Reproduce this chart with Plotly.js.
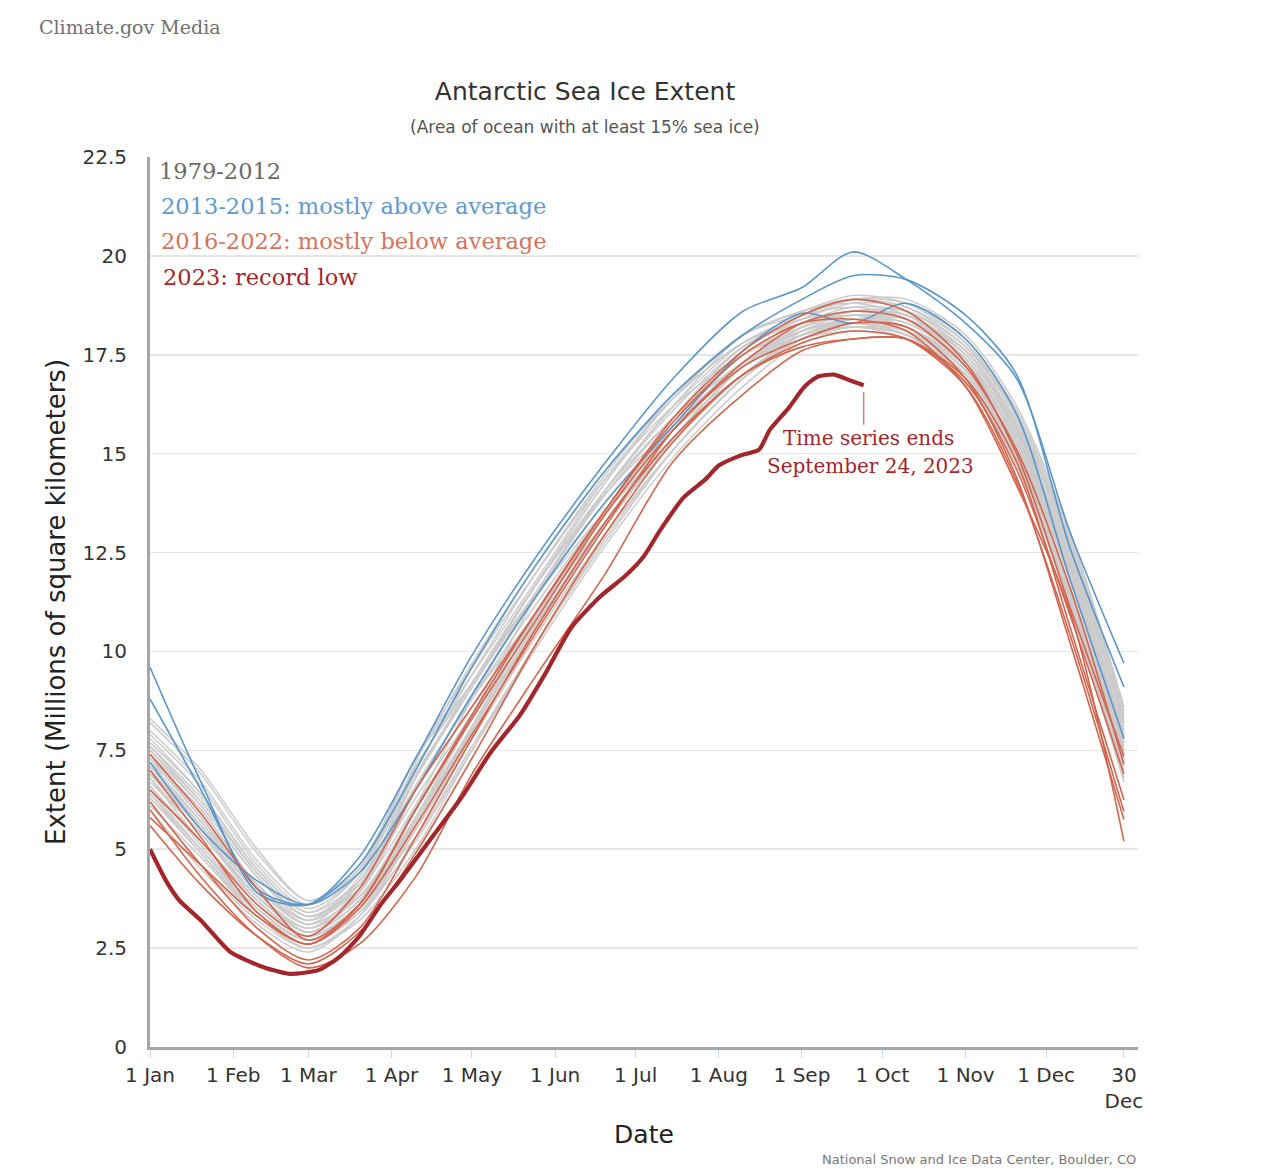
<!DOCTYPE html>
<html>
<head>
<meta charset="utf-8">
<script src="https://cdn.plot.ly/plotly-3.0.1.min.js"></script>
<style>
  html, body { margin: 0; padding: 0; background: #ffffff; }
  #chart { width: 1280px; height: 1168px; }
</style>
</head>
<body>
<div id="chart"></div>
<script>
// Sample dates shared by the 1979-2022 daily-extent curves (calendar of a non-leap year)
const dates = ['2023-01-01','2023-01-20','2023-02-10','2023-03-01','2023-03-20','2023-04-10',
  '2023-05-01','2023-05-25','2023-06-20','2023-07-15','2023-08-10','2023-09-01',
  '2023-09-20','2023-10-10','2023-11-01','2023-11-20','2023-12-10','2023-12-30'];

// 1979-2012 extents, millions of km²
const ext1979 = [8.0, 6.7, 4.7, 3.6, 4.5, 7.3, 9.4, 11.8, 14.4, 16.4, 17.8, 18.4, 18.6, 18.5, 17.5, 15.6, 12.3, 7.9];
const ext1980 = [7.6, 6.3, 4.4, 3.3, 4.0, 6.1, 8.3, 10.9, 13.3, 15.4, 17.2, 18.0, 18.3, 18.1, 17.0, 15.0, 11.6, 7.2];
const ext1981 = [6.4, 4.9, 3.4, 2.7, 3.6, 5.8, 8.4, 11.4, 14.1, 16.2, 18.0, 18.6, 18.9, 18.7, 17.7, 15.9, 12.6, 8.2];
const ext1982 = [7.3, 6.0, 4.1, 3.2, 4.3, 7.1, 9.2, 11.7, 14.1, 15.9, 17.3, 18.0, 18.2, 18.0, 17.0, 15.1, 11.8, 7.5];
const ext1983 = [6.8, 5.2, 3.7, 2.8, 3.5, 5.5, 7.8, 10.4, 13.0, 15.1, 16.9, 17.9, 18.3, 18.2, 17.2, 15.3, 11.9, 7.4];
const ext1984 = [7.9, 6.6, 4.6, 3.5, 4.4, 6.9, 9.1, 11.5, 14.0, 15.7, 17.2, 18.0, 18.4, 18.4, 17.6, 15.8, 12.5, 8.1];
const ext1985 = [6.2, 4.6, 3.2, 2.5, 3.3, 5.3, 8.0, 10.7, 13.3, 15.6, 17.3, 18.3, 18.7, 18.6, 17.6, 15.7, 12.2, 7.8];
const ext1986 = [7.1, 5.7, 4.0, 3.1, 3.9, 6.5, 8.9, 11.4, 13.6, 15.6, 17.0, 17.9, 18.1, 17.9, 16.8, 14.8, 11.3, 6.9];
const ext1987 = [7.5, 6.1, 4.3, 3.2, 4.1, 6.6, 8.8, 11.0, 13.5, 15.9, 17.7, 18.4, 18.8, 18.7, 17.8, 16.0, 12.8, 8.6];
const ext1988 = [6.6, 5.1, 3.5, 2.7, 3.4, 5.2, 7.5, 10.1, 12.7, 14.9, 16.7, 17.8, 18.1, 17.9, 16.9, 15.0, 11.5, 7.0];
const ext1989 = [7.4, 5.8, 4.0, 3.1, 4.2, 6.8, 9.1, 11.7, 14.3, 16.4, 18.0, 18.5, 18.7, 18.4, 17.3, 15.3, 11.9, 7.6];
const ext1990 = [6.9, 5.5, 3.8, 2.9, 3.7, 6.0, 8.3, 10.9, 13.5, 15.7, 17.5, 18.3, 18.6, 18.4, 17.4, 15.5, 12.1, 7.7];
const ext1991 = [7.7, 6.4, 4.5, 3.4, 4.4, 7.3, 9.6, 12.0, 14.4, 16.2, 17.5, 18.1, 18.4, 18.2, 17.1, 15.2, 11.8, 7.3];
const ext1992 = [6.5, 5.0, 3.4, 2.6, 3.5, 5.7, 8.1, 10.9, 13.6, 15.9, 17.7, 18.4, 18.9, 18.8, 17.9, 16.1, 12.9, 8.5];
const ext1993 = [7.2, 5.7, 3.9, 3.0, 3.8, 5.8, 8.1, 10.7, 13.2, 15.3, 17.0, 18.0, 18.4, 18.3, 17.3, 15.4, 12.0, 7.8];
const ext1994 = [6.1, 4.8, 3.3, 2.6, 3.4, 5.5, 8.0, 10.6, 13.2, 15.4, 17.2, 18.1, 18.4, 18.2, 17.1, 15.0, 11.4, 6.9];
const ext1995 = [8.2, 6.9, 4.9, 3.7, 4.6, 7.3, 9.2, 11.5, 13.8, 15.7, 17.2, 18.0, 18.3, 18.2, 17.3, 15.6, 12.4, 8.3];
const ext1996 = [7.0, 5.6, 3.9, 2.9, 3.7, 6.1, 8.8, 11.5, 14.1, 16.2, 17.8, 18.5, 18.9, 18.9, 18.0, 16.2, 13.0, 8.6];
const ext1997 = [6.7, 5.4, 3.7, 2.8, 3.6, 5.7, 8.0, 10.6, 13.2, 15.3, 17.0, 18.0, 18.3, 18.0, 16.9, 14.9, 11.3, 6.8];
const ext1998 = [7.8, 6.4, 4.5, 3.4, 4.2, 6.6, 8.8, 11.2, 13.6, 15.7, 17.3, 18.2, 18.5, 18.4, 17.5, 15.7, 12.4, 8.2];
const ext1999 = [6.3, 4.9, 3.3, 2.5, 3.2, 5.0, 7.5, 10.2, 12.8, 15.1, 16.9, 17.9, 18.2, 18.1, 17.1, 15.2, 11.8, 7.4];
const ext2000 = [7.3, 5.8, 4.1, 3.2, 4.0, 6.5, 8.9, 11.5, 14.1, 16.1, 17.7, 18.3, 18.6, 18.5, 17.5, 15.6, 12.2, 7.9];
const ext2001 = [6.8, 5.4, 3.8, 2.9, 3.9, 7.2, 9.7, 12.2, 14.6, 16.4, 17.8, 18.3, 18.5, 18.2, 17.2, 15.3, 11.9, 7.5];
const ext2002 = [7.6, 6.2, 4.4, 3.3, 4.1, 6.3, 8.4, 10.9, 13.3, 15.4, 17.0, 17.9, 18.2, 18.0, 17.0, 15.0, 11.6, 7.3];
const ext2003 = [6.0, 4.5, 3.1, 2.4, 3.3, 5.5, 8.1, 10.9, 13.5, 15.6, 17.3, 18.2, 18.5, 18.4, 17.4, 15.5, 12.3, 8.0];
const ext2004 = [7.0, 5.5, 3.8, 3.0, 4.0, 6.8, 9.2, 11.7, 14.0, 15.9, 17.3, 18.1, 18.3, 18.0, 16.9, 14.8, 11.2, 6.8];
const ext2005 = [7.4, 6.1, 4.3, 3.3, 4.2, 6.8, 9.1, 11.7, 14.3, 16.4, 18.0, 18.6, 19.0, 18.8, 17.8, 15.9, 12.6, 8.4];
const ext2006 = [6.6, 5.2, 3.7, 2.8, 3.6, 5.8, 8.3, 11.0, 13.6, 15.7, 17.3, 18.2, 18.6, 18.5, 17.6, 15.8, 12.6, 8.3];
const ext2007 = [7.1, 5.6, 3.9, 3.0, 3.8, 6.0, 8.3, 10.9, 13.3, 15.4, 17.0, 17.9, 18.2, 17.9, 16.8, 14.7, 11.1, 6.7];
const ext2008 = [8.3, 7.0, 5.0, 3.7, 4.5, 7.1, 9.2, 11.5, 14.0, 15.9, 17.5, 18.2, 18.5, 18.3, 17.3, 15.4, 12.1, 7.7];
const ext2009 = [6.9, 5.5, 3.8, 2.9, 3.8, 5.3, 7.6, 10.2, 12.9, 15.1, 16.9, 18.1, 18.5, 18.4, 17.4, 15.5, 12.0, 7.5];
const ext2010 = [7.2, 6.0, 4.1, 3.1, 3.9, 7.0, 9.4, 12.0, 14.5, 16.5, 18.0, 18.6, 18.8, 18.5, 17.5, 15.7, 12.3, 7.9];
const ext2011 = [6.4, 5.0, 3.5, 2.7, 3.6, 6.0, 8.4, 11.0, 13.5, 15.4, 17.0, 17.9, 18.2, 18.0, 16.9, 14.9, 11.5, 7.1];
const ext2012 = [7.5, 6.2, 4.4, 3.3, 4.1, 6.5, 8.6, 11.0, 13.3, 15.4, 17.2, 18.2, 18.6, 18.6, 17.7, 16.0, 12.7, 8.5];

// 2013-2015: mostly above average
const ext2013 = [7.2, 5.5, 4.2, 3.6, 4.4, 6.5, 8.9, 11.4, 13.8, 15.7, 17.6, 18.55, 18.3, 18.8, 17.9, 16.0, 11.8, 7.8];
const ext2014 = [8.8, 6.5, 4.0, 3.6, 4.6, 7.0, 9.6, 12.2, 14.6, 16.5, 18.0, 18.9, 19.5, 19.4, 18.5, 17.0, 12.6, 9.1];
const ext2015 = [9.6, 6.7, 3.9, 3.6, 4.8, 7.3, 9.9, 12.4, 14.8, 16.9, 18.6, 19.2, 20.1, 19.4, 18.3, 16.9, 13.0, 9.7];

// 2016-2022: mostly below average
const ext2016 = [7.4, 5.9, 4.0, 2.7, 3.6, 6.0, 8.4, 11.0, 13.6, 15.8, 17.5, 18.3, 18.4, 18.1, 16.7, 14.2, 11.0, 5.2];
const ext2017 = [5.6, 4.1, 2.8, 2.1, 2.9, 4.9, 7.3, 10.2, 13.0, 15.3, 17.0, 17.7, 17.9, 17.9, 16.8, 14.6, 10.9, 6.9];
const ext2018 = [6.2, 4.6, 3.0, 2.2, 3.0, 5.3, 7.8, 10.6, 13.3, 15.4, 17.0, 17.8, 18.1, 17.9, 16.7, 14.3, 10.4, 5.95];
const ext2019 = [5.8, 4.6, 3.3, 2.6, 3.6, 6.0, 8.3, 10.8, 13.5, 15.6, 17.2, 17.9, 18.3, 18.2, 16.9, 14.4, 10.2, 5.75];
const ext2020 = [6.5, 5.2, 3.6, 2.8, 4.0, 6.5, 8.6, 11.0, 13.6, 15.9, 17.6, 18.5, 18.9, 18.6, 17.3, 15.0, 11.1, 7.35];
const ext2021 = [7.0, 5.3, 3.4, 2.6, 3.5, 5.6, 7.9, 10.5, 13.2, 15.6, 17.3, 18.3, 18.6, 18.4, 17.2, 15.1, 11.6, 7.15];
const ext2022 = [6.0, 4.3, 2.8, 2.0, 2.6, 4.3, 6.9, 9.4, 12.0, 14.8, 16.5, 17.6, 17.9, 17.9, 16.9, 14.8, 10.6, 6.25];

// 2023: record low, series ends September 24
const dates2023 = ['2023-01-01','2023-01-07','2023-01-12','2023-01-20','2023-01-31','2023-02-11',
  '2023-02-22','2023-03-05','2023-03-13','2023-03-20','2023-03-28','2023-04-04','2023-04-15',
  '2023-04-27','2023-05-08','2023-05-19','2023-05-28','2023-06-07','2023-06-18','2023-06-27',
  '2023-07-04','2023-07-10','2023-07-19','2023-07-27','2023-08-01','2023-08-09','2023-08-16',
  '2023-08-20','2023-08-27','2023-09-02','2023-09-07','2023-09-13','2023-09-19','2023-09-24'];
const ext2023 = [5.0, 4.2, 3.7, 3.2, 2.4, 2.05, 1.85, 1.95, 2.3, 2.8, 3.6, 4.2, 5.2, 6.3, 7.45,
  8.4, 9.4, 10.6, 11.4, 11.9, 12.4, 13.05, 13.9, 14.35, 14.7, 14.95, 15.1, 15.6, 16.15, 16.7,
  16.95, 17.0, 16.85, 16.73];

// Axis ticks
const tickDates = ['2023-01-01','2023-02-01','2023-03-01','2023-04-01','2023-05-01','2023-06-01',
  '2023-07-01','2023-08-01','2023-09-01','2023-10-01','2023-11-01','2023-12-01','2023-12-30'];
const tickLabels = ['1 Jan','1 Feb','1 Mar','1 Apr','1 May','1 Jun','1 Jul','1 Aug','1 Sep',
  '1 Oct','1 Nov','1 Dec','30<br>Dec'];
const yTicks = [0, 2.5, 5, 7.5, 10, 12.5, 15, 17.5, 20, 22.5];
const yTickLabels = ['0','2.5','5','7.5','10','12.5','15','17.5','20','22.5'];

const grayYears = [ext1979, ext1980, ext1981, ext1982, ext1983, ext1984, ext1985, ext1986, ext1987,
  ext1988, ext1989, ext1990, ext1991, ext1992, ext1993, ext1994, ext1995, ext1996, ext1997,
  ext1998, ext1999, ext2000, ext2001, ext2002, ext2003, ext2004, ext2005, ext2006, ext2007,
  ext2008, ext2009, ext2010, ext2011, ext2012];
const blueYears = [ext2013, ext2014, ext2015];
const redYears = [ext2016, ext2017, ext2018, ext2019, ext2020, ext2021, ext2022];

const SANS = 'DejaVu Sans, Verdana, sans-serif';
const SERIF = 'DejaVu Serif, Georgia, serif';
const C_GRAY = '#cbcbcb', C_BLUE = '#5b96cb', C_RED = '#d3654e', C_2023 = '#a3262c';

function curve(y, color, width, xs, smooth) {
  return {
    x: xs || dates, y: y, type: 'scatter', mode: 'lines',
    line: { color: color, width: width, shape: 'spline', smoothing: smooth || 0.8 },
    hoverinfo: 'skip', showlegend: false
  };
}

const traces = []
  .concat(grayYears.map(y => curve(y, C_GRAY, 1.5)))
  .concat(blueYears.map(y => curve(y, C_BLUE, 1.6)))
  .concat(redYears.map(y => curve(y, C_RED, 1.6)))
  .concat([curve(ext2023, C_2023, 4.2, dates2023, 0.6)]);

// plot-area geometry: left 150, right 1138, top 157, bottom 1047
const L = 150, R = 1138, T = 157, B = 1047;
const px = x => (x - L) / (R - L);
const py = y => (B - y) / (B - T);

function note(text, x, y, size, color, family, anchor) {
  return { text: text, xref: 'paper', yref: 'paper', x: px(x), y: py(y),
    xanchor: anchor || 'left', yanchor: 'middle', showarrow: false,
    font: { size: size, color: color, family: family } };
}

const lastDate = dates2023[dates2023.length - 1];
const lastVal = ext2023[ext2023.length - 1];

const layout = {
  width: 1280, height: 1168,
  margin: { l: L, r: 1280 - R, t: T, b: 1168 - B, pad: 0 },
  paper_bgcolor: '#ffffff', plot_bgcolor: '#ffffff',
  font: { family: SANS, color: '#333333' },
  title: {
    text: 'Antarctic Sea Ice Extent',
    xref: 'paper', x: px(585), xanchor: 'center',
    yref: 'container', y: 1 - 91 / 1168, yanchor: 'middle',
    font: { size: 25, color: '#333333', family: SANS }
  },
  xaxis: {
    type: 'date', range: ['2023-01-01', '2024-01-04 06:00'],
    tickmode: 'array', tickvals: tickDates, ticktext: tickLabels,
    ticks: 'outside', ticklen: 8, tickwidth: 1, tickcolor: '#ccd6eb',
    tickfont: { size: 20, color: '#333333', family: SANS },
    showgrid: false, zeroline: false,
    showline: true, linecolor: '#a6a6a6', linewidth: 3,
    title: { text: 'Date', standoff: 14, font: { size: 25, color: '#222222', family: SANS } },
    fixedrange: true
  },
  yaxis: {
    range: [0, 22.5], tickmode: 'array', tickvals: yTicks, ticktext: yTickLabels,
    ticks: 'outside', ticklen: 16, tickcolor: 'rgba(0,0,0,0)',
    tickfont: { size: 20, color: '#333333', family: SANS },
    showgrid: true, gridcolor: '#e6e6e6', gridwidth: 1.5,
    zeroline: false, showline: true, linecolor: '#a6a6a6', linewidth: 3,
    title: { text: 'Extent (Millions of square kilometers)', standoff: 10,
      font: { size: 26, color: '#222222', family: SANS } },
    fixedrange: true
  },
  shapes: [{
    type: 'line', xref: 'x', yref: 'y',
    x0: lastDate, x1: lastDate, y0: lastVal - 0.17, y1: lastVal - 1.0,
    line: { color: '#c98084', width: 1.5 }
  }],
  annotations: [
    note('Climate.gov Media', 37, 27, 19, '#707070', SERIF),
    note('(Area of ocean with at least 15% sea ice)', 585, 127, 17, '#555555', SANS, 'center'),
    note('1979-2012', 157, 171, 22.5, '#6a6a6a', SERIF),
    note('2013-2015: mostly above average', 159, 206, 22.5, '#5e99cf', SERIF),
    note('2016-2022: mostly below average', 159, 241, 22.5, '#d6735d', SERIF),
    note('2023: record low', 161, 277, 22.5, '#a3262c', SERIF),
    note('Time series ends', 868, 438, 20, '#a3262c', SERIF, 'center'),
    note('September 24, 2023', 870, 466, 20, '#a3262c', SERIF, 'center'),
    note('National Snow and Ice Data Center, Boulder, CO', 1138, 1159, 13, '#777777', SANS, 'right')
  ],
  showlegend: false
};

Plotly.newPlot('chart', traces, layout, { staticPlot: true, displayModeBar: false });
</script>
</body>
</html>
